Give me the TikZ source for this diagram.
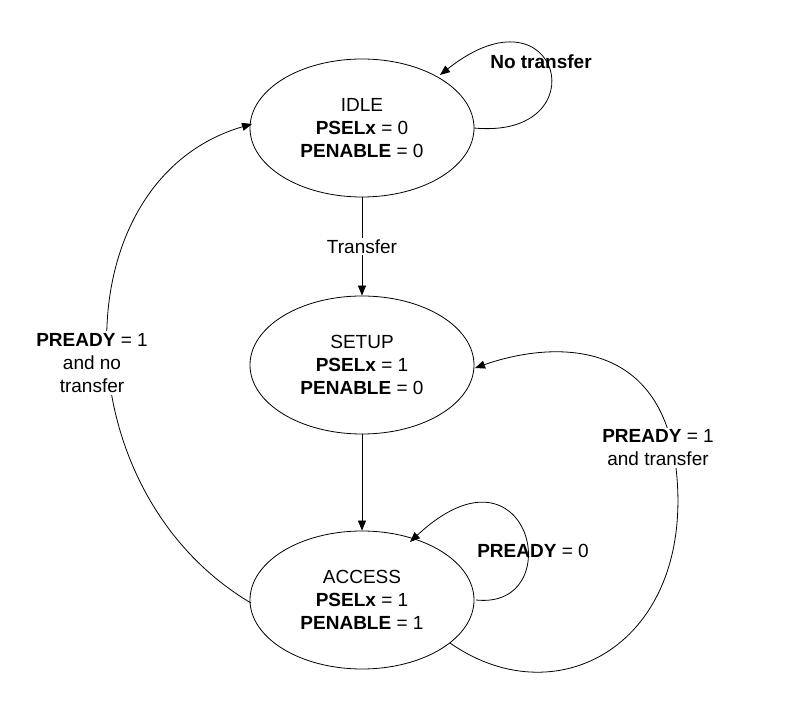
\documentclass[tikz,border=0pt]{standalone}
\usepackage{fontspec}
\setmainfont{Liberation Sans}
\usetikzlibrary{arrows.meta,shapes.geometric}
\begin{document}
\begin{tikzpicture}[x=1pt,y=-1pt,
  state/.style={draw,ellipse,minimum width=224pt,minimum height=138pt,inner sep=0pt,align=center,line width=0.8pt},
  conn/.style={line width=0.8pt,-{Triangle[length=10pt,width=8pt]}},
  lbl/.style={align=center,font=\fontsize{19}{23}\selectfont}]
\useasboundingbox (0,0) rectangle (796,708);
\node[state,font=\fontsize{19}{23}\selectfont] (idle) at (362,128) {IDLE\\\textbf{PSELx} = 0\\\textbf{PENABLE} = 0};
\node[state,font=\fontsize{19}{23}\selectfont] (setup) at (362,365) {SETUP\\\textbf{PSELx} = 1\\\textbf{PENABLE} = 0};
\node[state,font=\fontsize{19}{23}\selectfont] (access) at (362,600) {ACCESS\\\textbf{PSELx} = 1\\\textbf{PENABLE} = 1};
\draw[conn] (idle.south) -- node[lbl,fill=white,inner sep=2pt] {Transfer} (setup.north);
\draw[conn] (setup.south) -- (access.north);
\coordinate (i1) at (474,128);
\coordinate (i2) at (440,75);
\draw[conn] (i1) .. controls (600,140) and (560,-20) .. (i2);
\node[lbl] (nt) at (541,62) {\textbf{No transfer}};
\coordinate (a1) at (476,600);
\coordinate (a2) at (410,542);
\draw[conn] (a1) .. controls (570,610) and (530,430) .. (a2);
\node[lbl] (p0) at (533,551) {\textbf{PREADY} = 0};
\coordinate (l1) at (251,603);
\coordinate (l2) at (252,124);
\draw[conn] (l1) .. controls (60,490) and (60,180) .. (l2);
\node[lbl,fill=white,inner sep=2pt] (pl) at (92,363) {\textbf{PREADY} = 1\\and no\\transfer};
\coordinate (r1) at (450,643);
\coordinate (r2) at (475,368);
\draw[conn] (r1) .. controls (560,720) and (700,640) .. (675,460) .. controls (655,330) and (540,345) .. (r2);
\node[lbl,fill=white,inner sep=2pt] (pr) at (658,448) {\textbf{PREADY} = 1\\and transfer};
\end{tikzpicture}
\end{document}
